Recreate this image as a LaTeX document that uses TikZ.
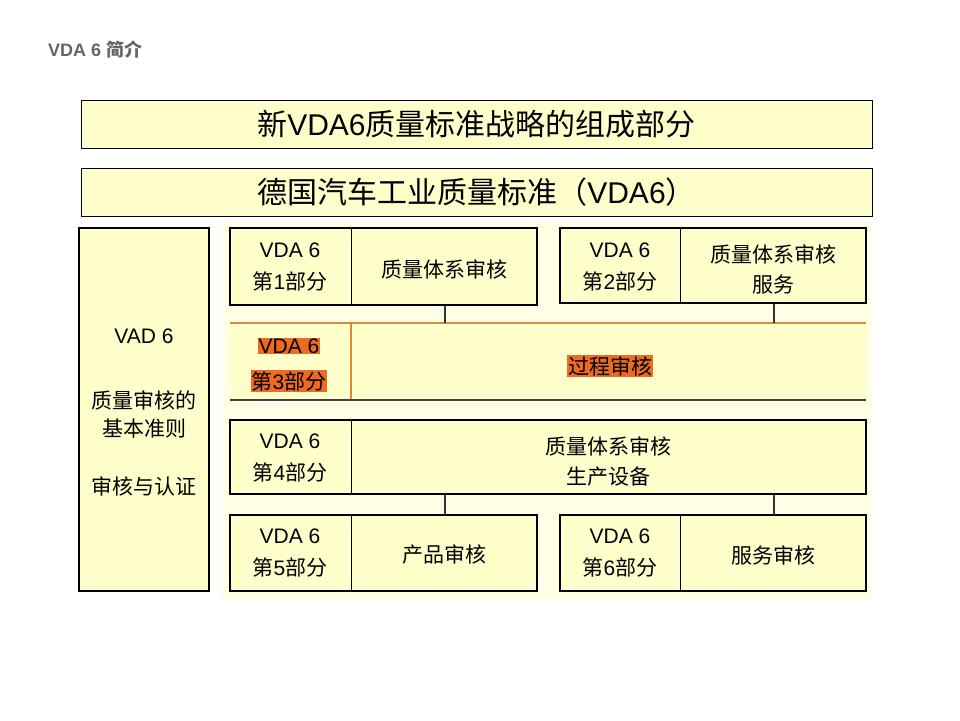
\documentclass[tikz,border=0pt]{standalone}
\usepackage{fontspec}
\setmainfont{Liberation Sans}
\newfontfamily\cjk{Noto Sans CJK SC}
\begin{document}
\begin{tikzpicture}[x=1pt,y=-1pt,
  cell/.style={draw=black,line width=2.5pt,fill=cellfill},
  lbl/.style={align=center,inner sep=0pt,font=\fontsize{21}{26}\selectfont},
  hl/.style={fill=hlorange,inner sep=1pt,font=\fontsize{21}{24}\selectfont},
  conn/.style={draw=black!80,line width=1.2pt}]
\definecolor{cellfill}{HTML}{FFFFCC}
\definecolor{bgfill}{HTML}{FFFFE6}
\definecolor{hlorange}{HTML}{EE6A22}
\definecolor{orline}{HTML}{E08A30}
\useasboundingbox (0,0) rectangle (960,720);
\fill[white] (0,0) rectangle (960,720);
\fill[bgfill] (222,222) rectangle (872,600);
\node[anchor=west,font=\bfseries\fontsize{18}{20}\selectfont,text=black!60,inner sep=0pt] (ttl) at (48,50) {VDA 6 {\cjk 简介}};
\node[draw=black,line width=1pt,fill=cellfill,minimum width=791pt,minimum height=48pt,font=\fontsize{30}{32}\selectfont,inner sep=0pt] (b1) at (476.5,124) {{\cjk 新}VDA6{\cjk 质量标准战略的组成部分}};
\node[draw=black,line width=1pt,fill=cellfill,minimum width=791pt,minimum height=48pt,font=\fontsize{30}{32}\selectfont,inner sep=0pt] (b2) at (476.5,192) {{\cjk 德国汽车工业质量标准（}VDA6{\cjk ）}};
% left box
\draw[cell] (79,228) rectangle (209,591);
\node[lbl] (l1) at (144,336) {VAD 6};
\node[lbl] (l2) at (144,414) {\cjk 质量审核的\\[2pt]\cjk 基本准则};
\node[lbl] (l3) at (144,486) {\cjk 审核与认证};
% row 1
\draw[cell] (230,228) rectangle (537,305);
\draw[line width=1pt] (351,228) -- (351,305);
\node[lbl] (p1) at (290,267) {VDA 6\\[6pt]{\cjk 第}1{\cjk 部分}};
\node[lbl] (t1) at (444,269) {\cjk 质量体系审核};
\draw[cell] (560,228) rectangle (866,303);
\draw[line width=1pt] (680,228) -- (680,303);
\node[lbl] (p2) at (620,267) {VDA 6\\[6pt]{\cjk 第}2{\cjk 部分}};
\node[lbl] (t2) at (773,269) {\cjk 质量体系审核\\[4pt]\cjk 服务};
% row 3
\fill[cellfill] (230,323) rectangle (866,400);
\draw[orline,line width=1.5pt] (230,323) -- (866,323);
\draw[orline,line width=1.5pt] (351,323) -- (351,400);
\draw[black!75,line width=1.2pt] (230,400) -- (866,400);
\node[hl] (p3a) at (289,346) {VDA 6};
\node[hl] (p3b) at (289,381) {{\cjk 第}3{\cjk 部分}};
\node[hl] (t3) at (610,366) {\cjk 过程审核};
% row 4
\draw[cell] (230,420) rectangle (866,494);
\draw[line width=1pt] (351,420) -- (351,494);
\node[lbl] (p4) at (290,458) {VDA 6\\[6pt]{\cjk 第}4{\cjk 部分}};
\node[lbl] (t4) at (608,462) {\cjk 质量体系审核\\[4pt]\cjk 生产设备};
% row 5
\draw[cell] (230,515) rectangle (537,591);
\draw[line width=1pt] (351,515) -- (351,591);
\node[lbl] (p5) at (290,553) {VDA 6\\[6pt]{\cjk 第}5{\cjk 部分}};
\node[lbl] (t5) at (444,555) {\cjk 产品审核};
\draw[cell] (560,515) rectangle (866,591);
\draw[line width=1pt] (680,515) -- (680,591);
\node[lbl] (p6) at (620,553) {VDA 6\\[6pt]{\cjk 第}6{\cjk 部分}};
\node[lbl] (t6) at (773,555) {\cjk 服务审核};
% connectors
\coordinate (c1a) at (445,306); \coordinate (c1b) at (445,323);
\coordinate (c2a) at (774,304); \coordinate (c2b) at (774,323);
\coordinate (c3a) at (445,495); \coordinate (c3b) at (445,515);
\coordinate (c4a) at (774,495); \coordinate (c4b) at (774,515);
\draw[conn] (c1a) -- (c1b); \draw[conn] (c2a) -- (c2b);
\draw[conn] (c3a) -- (c3b); \draw[conn] (c4a) -- (c4b);
\end{tikzpicture}
\end{document}
